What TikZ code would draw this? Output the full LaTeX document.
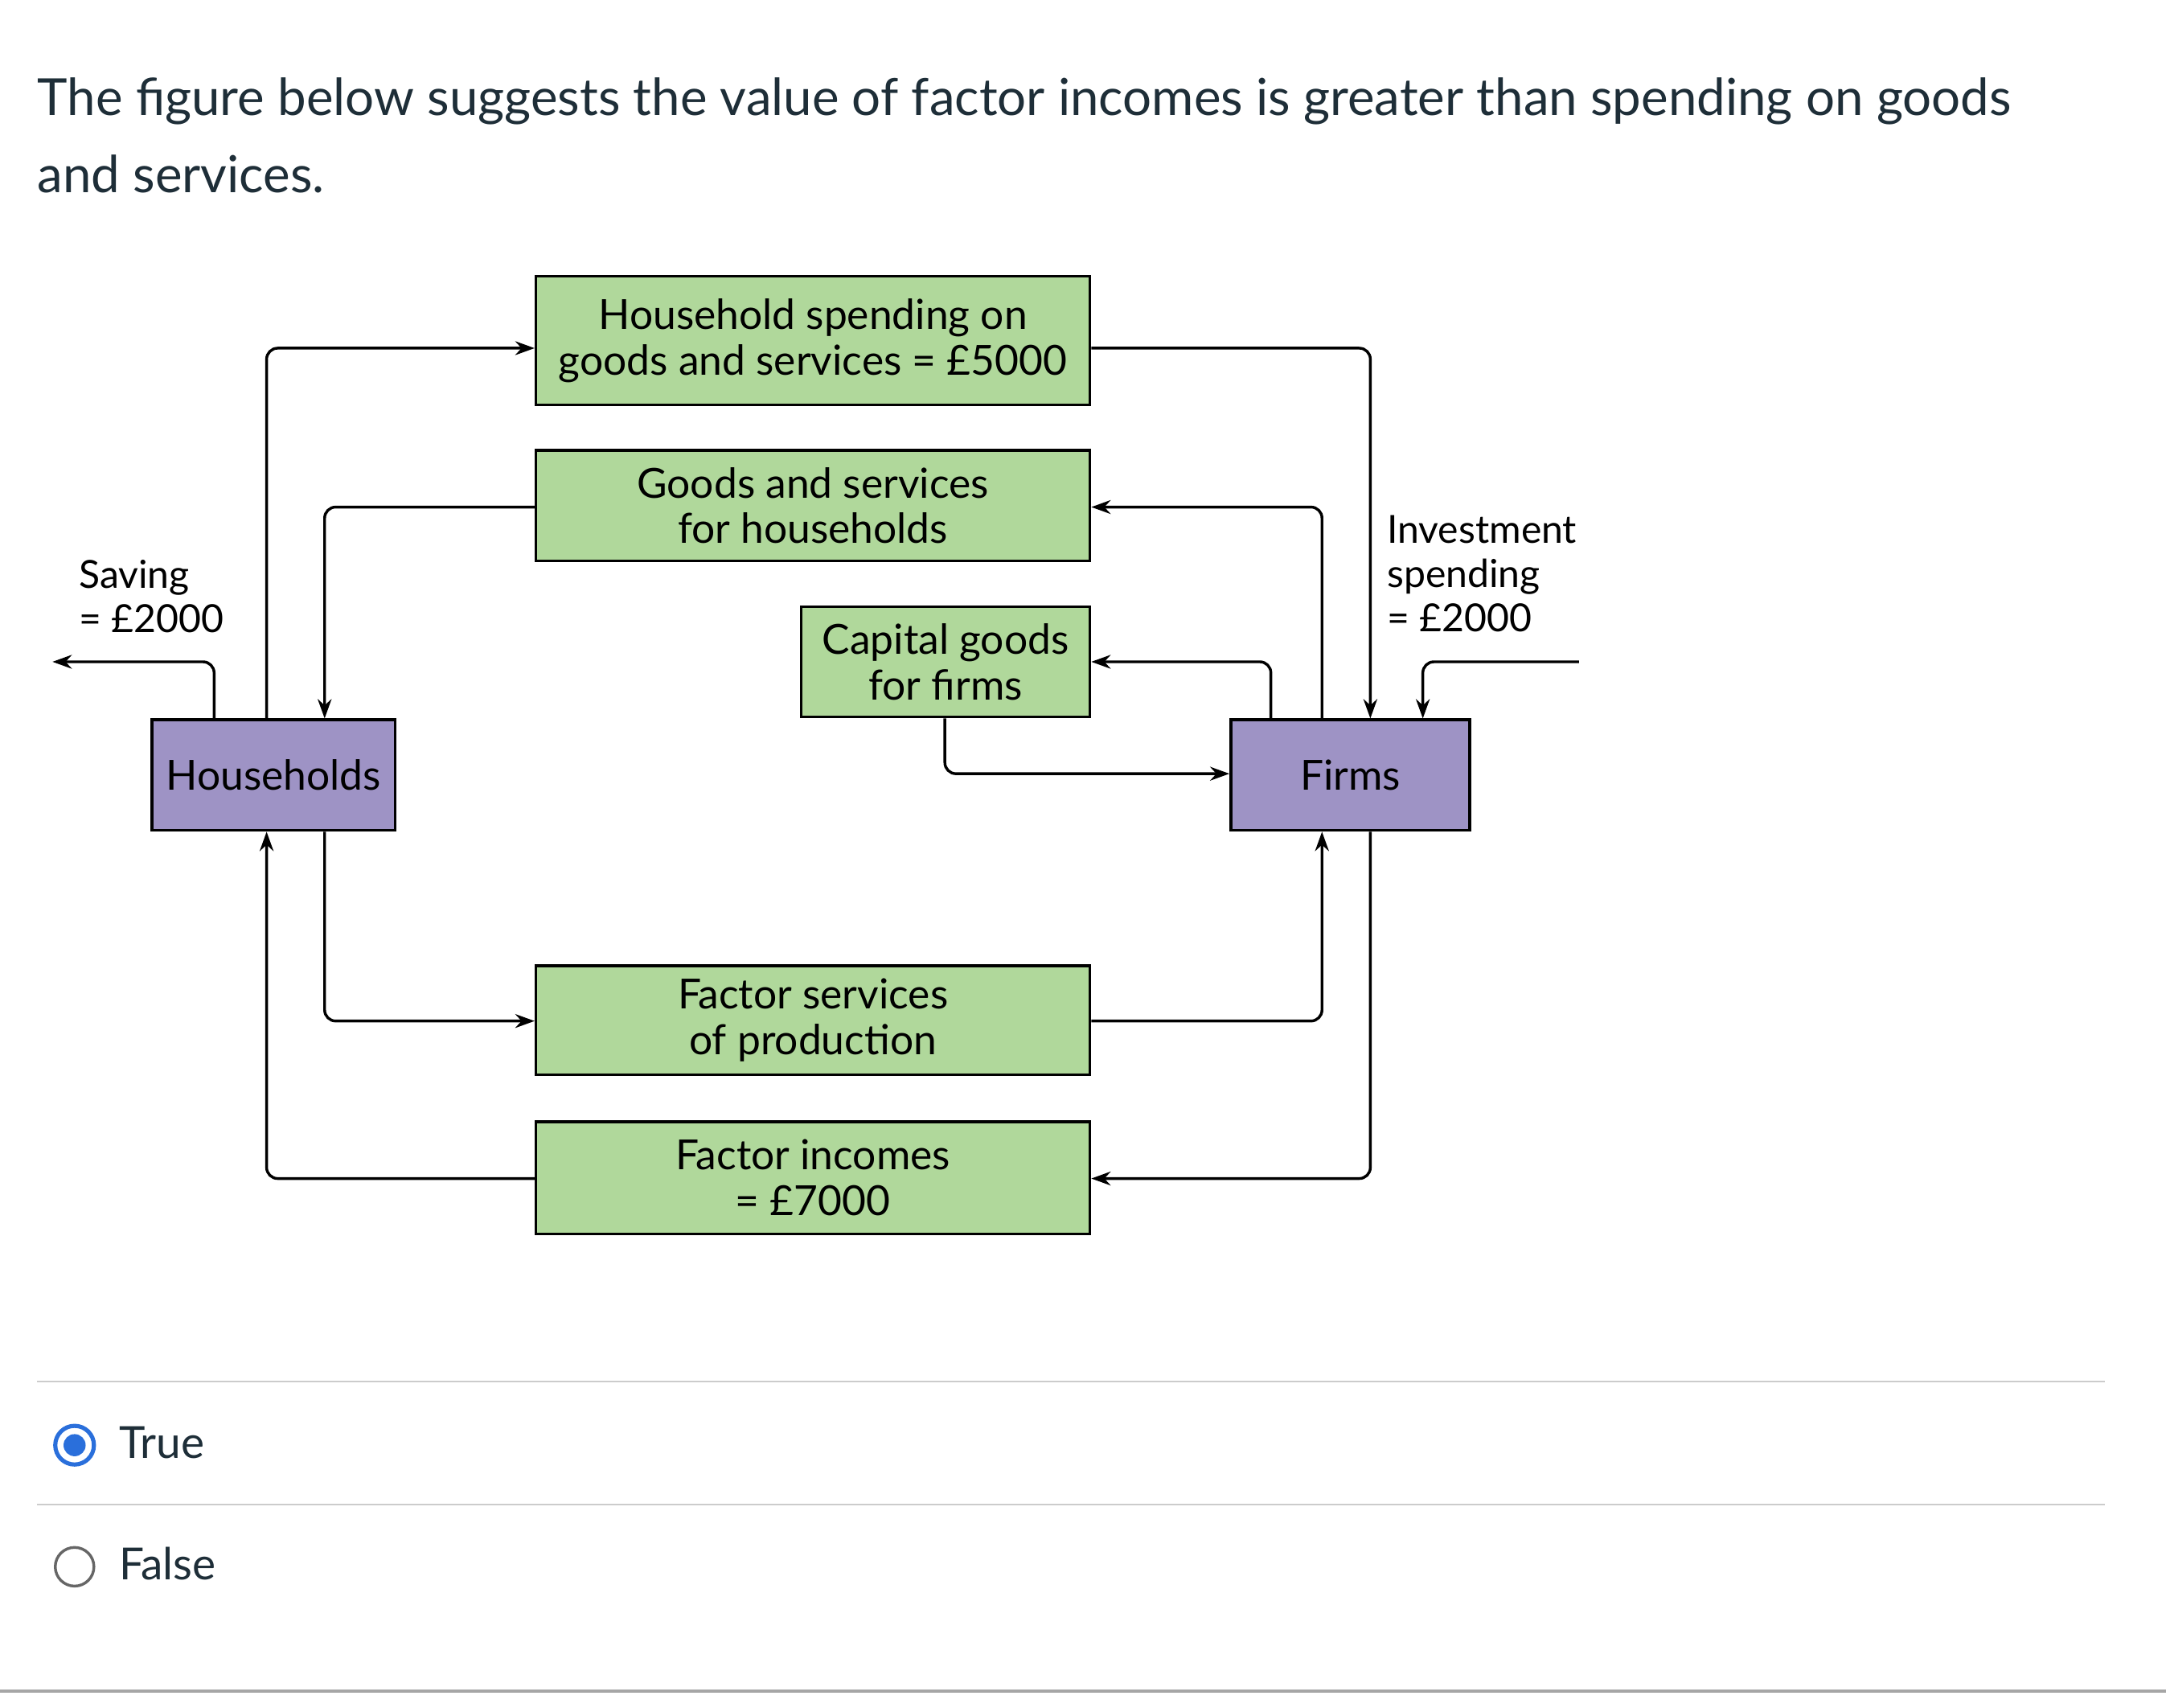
\documentclass[tikz,border=0pt]{standalone}
\usepackage{fontspec}
\setmainfont{Lato}
\newfontfamily\diag{Lato}
\usetikzlibrary{arrows.meta}
\definecolor{gbox}{HTML}{B0D89B}
\definecolor{pbox}{HTML}{9E93C5}
\definecolor{ttl}{HTML}{1E2E38}
\definecolor{rblue}{HTML}{2A6FDB}
\tikzset{
 gb/.style={draw=black,line width=2pt,fill=gbox,align=center,font=\diag\fontsize{30}{33}\selectfont,inner sep=0},
 pb/.style={draw=black,line width=2pt,fill=pbox,font=\diag\fontsize{30}{33}\selectfont,inner sep=0},
 fl/.style={line width=2pt,rounded corners=8pt,-{Stealth[length=14pt,width=10pt]}},
 lbl/.style={font=\diag\fontsize{28}{32}\selectfont,align=left,anchor=north west,inner sep=0}
}
\begin{document}
\begin{tikzpicture}[x=1pt,y=-1pt]
\useasboundingbox (0,0) rectangle (1568,1236);
\fill[white] (0,0) rectangle (1568,1236);
\node[anchor=west,text=ttl,font=\fontsize{37}{56}\selectfont,align=left,inner sep=0] (title) at (27,98)
 {The figure below suggests the value of factor incomes is greater than spending on goods\\and services.};
% boxes
\node[gb,minimum width=401,minimum height=93] (hs) at (588.5,246.5) {Household spending on\\goods and services = £5000};
\node[gb,minimum width=401,minimum height=80] (gs) at (588.5,366) {Goods and services\\for households};
\node[gb,minimum width=209,minimum height=80] (cg) at (684.5,479) {Capital goods\\for firms};
\node[pb,minimum width=176,minimum height=80] (hh) at (198,561) {Households};
\node[pb,minimum width=173,minimum height=80] (fi) at (977.5,561) {Firms};
\node[gb,minimum width=401,minimum height=79] (fs) at (588.5,738.5) {Factor services\\of production};
\node[gb,minimum width=401,minimum height=81] (fn) at (588.5,852.5) {Factor incomes\\= £7000};
% connectors
\draw[fl] (hh.north -| 193,0) |- (hs.west |- 0,252);
\draw[fl] (hs.east |- 0,252) -| (fi.north -| 992,0);
\draw[fl] (fi.north -| 957,0) |- (gs.east |- 0,367);
\draw[fl] (gs.west |- 0,367) -| (hh.north -| 235,0);
\draw[fl] (fi.north -| 920,0) |- (cg.east |- 0,479);
\draw[fl] (cg.south -| 684,0) |- (fi.west |- 0,560);
\draw[fl] (hh.south -| 235,0) |- (fs.west |- 0,739);
\draw[fl] (fs.east |- 0,739) -| (fi.south -| 957,0);
\draw[fl] (fi.south -| 992,0) |- (fn.east |- 0,853);
\draw[fl] (fn.west |- 0,853) -| (hh.south -| 193,0);
\coordinate (sv) at (38,479);
\coordinate (iv) at (1143,479);
\draw[fl] (hh.north -| 155,0) |- (sv);
\draw[fl] (iv) -| (fi.north -| 1030,0);
\node[lbl] (svl) at (57,405) {Saving\\= £2000};
\node[lbl] (ivl) at (1004,373) {Investment\\spending\\= £2000};
% separators
\draw[gray!40,line width=1.5pt] (27,1000) -- (1524,1000);
\draw[gray!40,line width=1.5pt] (27,1089) -- (1524,1089);
\draw[gray!70,line width=2pt] (0,1224) -- (1568,1224);
% radio
\node[circle,draw=rblue,line width=3pt,fill=white,minimum size=28,inner sep=0] (r1) at (54,1046) {};
\fill[rblue] (r1) circle (8);
\node[circle,draw=black!60,line width=2pt,minimum size=28,inner sep=0] (r2) at (54,1134) {};
\node[anchor=west,font=\fontsize{32}{36}\selectfont,inner sep=0,text=ttl] (t) at (86,1044) {True};
\node[anchor=west,font=\fontsize{32}{36}\selectfont,inner sep=0,text=ttl] (f) at (86,1132) {False};
\end{tikzpicture}
\end{document}
